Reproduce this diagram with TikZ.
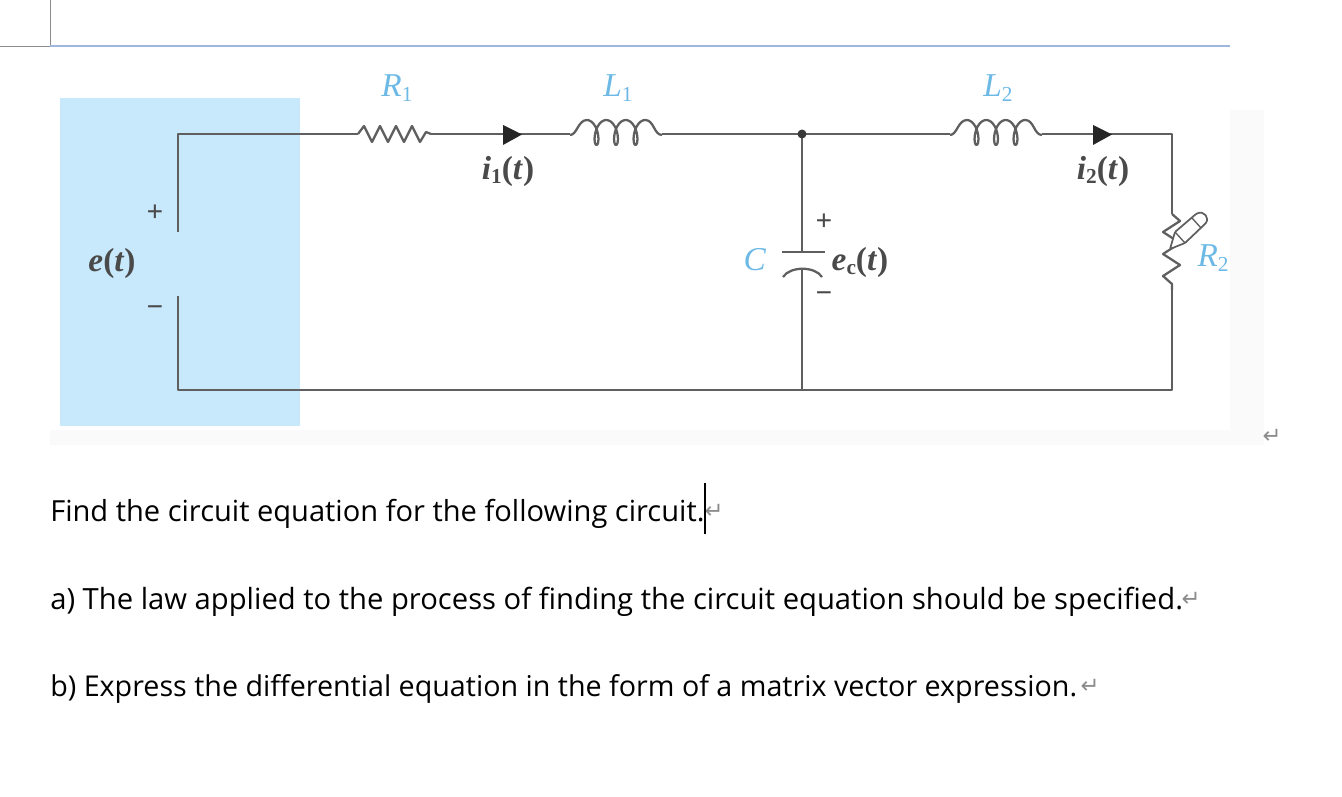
\documentclass[tikz,border=0pt]{standalone}
\usepackage{fontspec}
\setmainfont{Open Sans}
\newfontfamily\symfont{DejaVu Sans}
\newfontfamily\labelfont{Liberation Serif}
\definecolor{panelblue}{HTML}{C8E8FC}
\definecolor{wiregray}{HTML}{5F5F5F}
\definecolor{labelblue}{HTML}{6DB9E6}
\definecolor{labelgray}{HTML}{4A4A4A}
\definecolor{markgray}{HTML}{8C8C8C}
\definecolor{ruleblue}{HTML}{9DB8DC}
\newcommand{\letter}[2]{\textit{#1}\raisebox{-.3ex}{\fontsize{16}{16}\selectfont #2}}
\newcommand{\timed}[2]{\bfseries\letter{#1}{#2}(\textit{t})}
\tikzset{
  wire/.style={draw=wiregray, line width=2.2pt, line join=round},
  part/.style={draw=wiregray, line width=1.7pt, line join=round},
  elabel/.style={text=labelblue, font=\labelfont\fontsize{25}{25}\selectfont},
  ilabel/.style={text=labelgray, font=\labelfont\fontsize{25}{25}\selectfont},
  sign/.style={text=labelgray, font=\labelfont\fontsize{22}{22}\selectfont\bfseries},
  bodytext/.style={anchor=base west, inner sep=0pt, font=\fontsize{21.9}{24}\selectfont},
  retmark/.style={text=markgray, inner sep=0pt, font=\symfont\fontsize{17}{17}\selectfont},
  pics/coilpart/.style={code={
    \draw[part] (-46,1) .. controls (-39,1) and (-38,-14) .. (-29,-14)
      -- plot[smooth, samples=73, domain=-180:900, variable=\t]
         ({-19.5+(\t/360*19.5)-6*sin(\t)}, {-1.5+12.5*cos(\t)})
      .. controls (38,-14) and (38,1) .. (46,1);
  }}
}
\begin{document}
\begin{tikzpicture}[x=.75pt, y=-.75pt]
  \useasboundingbox (0,0) rectangle (1342,796);
  % page marks
  \draw[markgray, line width=.7pt] (0,46) -- (50,46) -- (50,0);
  \draw[ruleblue, line width=.9pt] (50,46) -- (1230,46);
  % backgrounds
  \fill[gray!4] (50,430) rectangle (1264,445);
  \fill[gray!4] (1230,110) rectangle (1264,445);
  \fill[panelblue] (60,98) rectangle (300,426);
  % junctions
  \coordinate (srctop) at (178,232);
  \coordinate (srccorner) at (178,134);
  \coordinate (r1in) at (358,134);
  \coordinate (r1out) at (431,134);
  \coordinate (l1in) at (570,134);
  \coordinate (l1out) at (662,134);
  \coordinate (mid) at (802,134);
  \coordinate (l2in) at (950,134);
  \coordinate (l2out) at (1042,134);
  \coordinate (rcorner) at (1172,134);
  \coordinate (r2in) at (1172,214);
  \coordinate (r2out) at (1172,290);
  \coordinate (botright) at (1172,390);
  \coordinate (botmid) at (802,390);
  \coordinate (botleft) at (178,390);
  \coordinate (srcbot) at (178,296);
  \coordinate (capup) at (802,252);
  \coordinate (capdown) at (802,268);
  % wires
  \draw[wire] (srctop) -- (srccorner) -- (r1in);
  \draw[wire] (r1out) -- (l1in);
  \draw[wire] (l1out) -- (l2in);
  \draw[wire] (l2out) -- (rcorner) -- (r2in);
  \draw[wire] (r2out) -- (botright) -- (botleft) -- (srcbot);
  \draw[wire] (mid) -- (capup);
  \draw[wire] (capdown) -- (botmid);
  \fill[wiregray!60!black] (mid) circle (4.5);
  % R1
  \draw[part] (r1in) -- (364,126) -- (372,142) -- (380,126) -- (388,142) -- (396,126)
    -- (404,142) -- (412,126) -- (420,142) -- (426,132) -- (r1out);
  % L1, L2
  \pic at (616,134) {coilpart};
  \pic at (996,134) {coilpart};
  % current arrows
  \fill[black!85] (503,125) -- (522,134.5) -- (503,145) -- cycle;
  \fill[black!85] (1093,125) -- (1112,134.5) -- (1093,145) -- cycle;
  % C
  \draw[part] (782,252) -- (825,252);
  \draw[part] (783,277) .. controls (790,266) and (815,266) .. (822,277);
  % R2
  \draw[part] (r2in) -- (1180,221) -- (1163,232) -- (1180,243) -- (1163,254) -- (1180,265)
    -- (1163,276) -- (1172,284) -- (r2out);
  % pencil mark
  \draw[wiregray, line width=1.3pt, fill=white, rounded corners=.8pt, line join=round]
    (1170,249) -- (1175,232) -- (1196,214) .. controls (1204,210) and (1210,218) .. (1205,224)
    -- (1185,243) -- cycle;
  \draw[wiregray, line width=1pt] (1175,232) -- (1185,243);
  \draw[wiregray, line width=1pt] (1192,218) -- (1201,228);
  % labels
  \node[elabel] (labr1) at (397,88) {\letter{R}{1}};
  \node[elabel] (labl1) at (618,88) {\letter{L}{1}};
  \node[elabel] (labl2) at (998,88) {\letter{L}{2}};
  \node[elabel] (labc) at (755,262) {\letter{C}{}};
  \node[elabel] (labr2) at (1213,258) {\letter{R}{2}};
  \node[ilabel] (labi1) at (508,171) {\timed{i}{1}};
  \node[ilabel] (labi2) at (1103,171) {\timed{i}{2}};
  \node[ilabel] (labe) at (112,263) {\timed{e}{}};
  \node[ilabel] (labec) at (860,262) {\timed{e}{c}};
  \node[sign] (plussrc) at (155,213) {+};
  \node[sign] (minussrc) at (155,311) {−};
  \node[sign] (pluscap) at (824,222) {+};
  \node[sign] (minuscap) at (824,297) {−};
  % text
  \node[bodytext, font=\fontsize{21.8}{24}\selectfont] (lineone) at (50,521) {Find the circuit equation for the following circuit.};
  \node[bodytext] (linetwo) at (50,609) {a) The law applied to the process of finding the circuit equation should be specified.};
  \node[bodytext, font=\fontsize{21.5}{24}\selectfont] (linethree) at (50,696) {b) Express the differential equation in the form of a matrix vector expression.};
  \node[retmark] (retzero) at (1272,436) {↵};
  \node[retmark] (retone) at (714,511) {↵};
  \node[retmark] (rettwo) at (1191,599) {↵};
  \node[retmark] (retthree) at (1090,686) {↵};
  \coordinate (cursortop) at (705,483);
  \coordinate (cursorbot) at (705,534);
  \draw[black, line width=.8pt] (cursortop) -- (cursorbot);
\end{tikzpicture}
\end{document}
